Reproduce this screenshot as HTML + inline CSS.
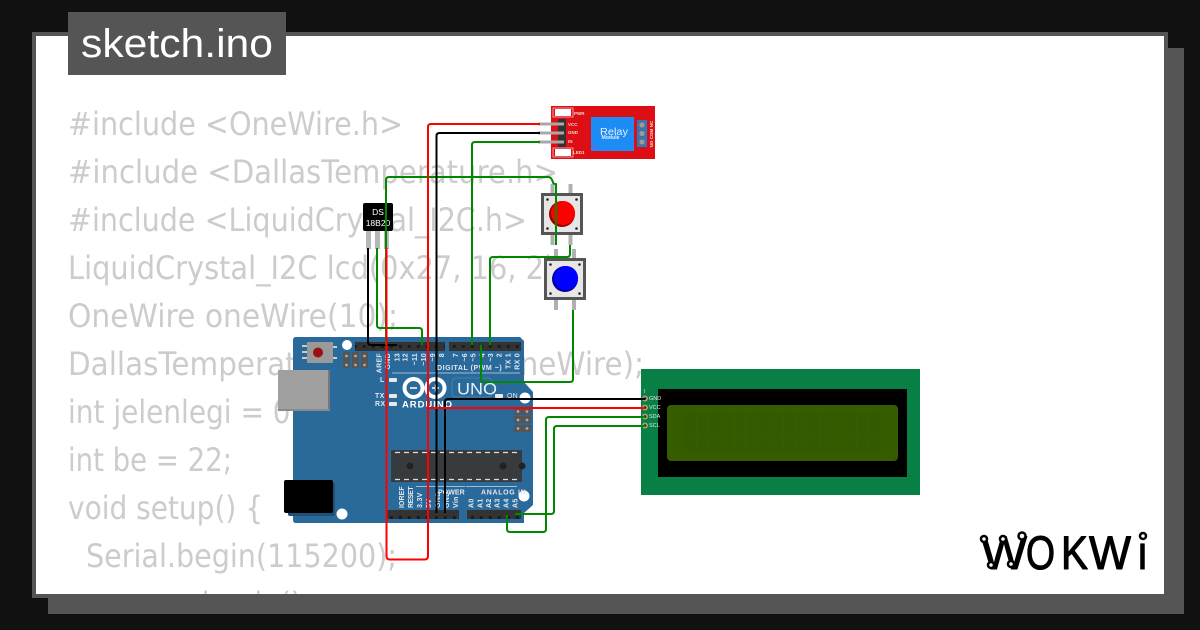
<!DOCTYPE html>
<html><head><meta charset="utf-8"><title>sketch.ino</title>
<style>html,body{margin:0;padding:0;background:#111}svg{display:block}
.code{font-family:"DejaVu Sans",sans-serif;font-size:32px;fill:#ccc}
.pl{font-family:"Liberation Sans",sans-serif;font-size:7px;fill:#e4e8ee;font-weight:bold;letter-spacing:.3px}
.w{fill:none;stroke-width:2;stroke-linejoin:round}
.lc{font-family:"Liberation Sans",sans-serif;font-size:5.5px;fill:#e8e8e8}
.lg{font-family:"Liberation Sans",sans-serif;font-size:47px;fill:#000;stroke:#000;stroke-width:1.100px;stroke-linejoin:round}
</style></head><body>
<svg xmlns="http://www.w3.org/2000/svg" width="1200" height="630" viewBox="0 0 1200 630">
<defs>
<clipPath id="c"><rect x="36" y="36" width="1128" height="558"/></clipPath>
<pattern id="h" x="0" y="0" width="9" height="9" patternUnits="userSpaceOnUse"><rect width="9" height="9" fill="#333"/><rect x="2.8" y="3" width="3" height="3" fill="#1c1c1c"/></pattern>
<pattern id="s" x="685" y="413" width="12.300" height="20" patternUnits="userSpaceOnUse"><rect x="0.500" y="0.500" width="10.500" height="19" fill="#2f5400"/></pattern>
</defs>
<rect width="1200" height="630" fill="#111"/>
<rect x="48" y="48" width="1136" height="566" fill="#555"/>
<rect x="34" y="34" width="1132" height="562" fill="#fff" stroke="#555" stroke-width="4"/>
<g clip-path="url(#c)" class="code">
<text x="68" y="135" textLength="335" lengthAdjust="spacingAndGlyphs">#include &lt;OneWire.h&gt;</text>
<text x="68" y="183" textLength="490" lengthAdjust="spacingAndGlyphs">#include &lt;DallasTemperature.h&gt;</text>
<text x="68" y="231" textLength="459" lengthAdjust="spacingAndGlyphs">#include &lt;LiquidCrystal_I2C.h&gt;</text>
<text x="68" y="279" textLength="497" lengthAdjust="spacingAndGlyphs">LiquidCrystal_I2C lcd(0x27, 16, 2);</text>
<text x="68" y="327" textLength="330" lengthAdjust="spacingAndGlyphs">OneWire oneWire(10);</text>
<text x="68" y="375" textLength="576" lengthAdjust="spacingAndGlyphs">DallasTemperature sensors(&amp;oneWire);</text>
<text x="68" y="423" textLength="232" lengthAdjust="spacingAndGlyphs">int jelenlegi = 0;</text>
<text x="68" y="471" textLength="164" lengthAdjust="spacingAndGlyphs">int be = 22;</text>
<text x="68" y="519" textLength="195" lengthAdjust="spacingAndGlyphs">void setup() {</text>
<text x="86" y="567" textLength="311" lengthAdjust="spacingAndGlyphs">Serial.begin(115200);</text>
<text x="86" y="615" textLength="225" lengthAdjust="spacingAndGlyphs">sensors.begin();</text>
</g>
<rect x="68" y="12" width="218" height="63" fill="#555"/>
<text x="81" y="57" font-family="'Liberation Sans',sans-serif" font-size="40" fill="#fff" textLength="192" lengthAdjust="spacingAndGlyphs">sketch.ino</text>

<!-- Arduino -->
<path d="M293 340Q293 337 296 337H520L524 341V382L533 392V505L524 513V523H296Q293 523 293 520Z" fill="#2a6a9b"/>
<rect x="355" y="342" width="90" height="9" fill="url(#h)"/>
<rect x="449" y="342" width="72" height="9" fill="url(#h)"/>
<rect x="387" y="510" width="72" height="9" fill="url(#h)"/>
<rect x="467" y="510" width="54" height="9" fill="url(#h)"/>
<rect x="307" y="342" width="26" height="21" fill="#9a9a9a"/>
<rect x="302" y="345" width="5" height="2" fill="#ccc"/><rect x="302" y="351" width="5" height="2" fill="#ccc"/><rect x="302" y="357" width="5" height="2" fill="#ccc"/>
<rect x="333" y="346" width="4" height="2" fill="#ccc"/><rect x="333" y="357" width="4" height="2" fill="#ccc"/>
<circle cx="318" cy="352.500" r="5" fill="#9b1111"/>
<circle cx="347" cy="345" r="5" fill="#fff"/><circle cx="342" cy="514" r="5.500" fill="#fff"/>
<circle cx="525" cy="398" r="5.500" fill="#fff"/><circle cx="524" cy="496" r="5.500" fill="#fff"/>
<rect x="343" y="352" width="7" height="16" fill="#555"/><rect x="352" y="352" width="7" height="16" fill="#555"/><rect x="361" y="352" width="7" height="16" fill="#555"/>
<g fill="#aaa"><circle cx="346.500" cy="356" r="1.400"/><circle cx="355.500" cy="356" r="1.400"/><circle cx="364.500" cy="356" r="1.400"/><circle cx="346.500" cy="365" r="1.400"/><circle cx="355.500" cy="365" r="1.400"/><circle cx="364.500" cy="365" r="1.400"/></g>
<rect x="514" y="408" width="17" height="7" fill="#555"/><rect x="514" y="416" width="17" height="7" fill="#555"/><rect x="514" y="425" width="17" height="7" fill="#555"/>
<g fill="#aaa"><circle cx="518" cy="411.500" r="1.400"/><circle cx="527" cy="411.500" r="1.400"/><circle cx="518" cy="420" r="1.400"/><circle cx="527" cy="420" r="1.400"/><circle cx="518" cy="428.500" r="1.400"/><circle cx="527" cy="428.500" r="1.400"/></g>
<rect x="278" y="370" width="52" height="41" fill="#a0a0a0"/><rect x="328" y="370" width="2" height="41" fill="#777"/><rect x="278" y="409" width="52" height="2" fill="#8a8a8a"/>
<rect x="288" y="483" width="47" height="33" rx="2" fill="#1f4f75"/>
<rect x="284" y="480" width="49" height="33" rx="2" fill="#000"/>
<rect x="391" y="450" width="131" height="32" rx="1" fill="#383b3d"/>
<path d="M395 452.500H520M395 479.500H520" stroke="#ddd" stroke-width="1.200" stroke-dasharray="5 4" fill="none"/>
<circle cx="410" cy="466" r="3.500" fill="#222"/><circle cx="503" cy="466" r="3.500" fill="#222"/><circle cx="522" cy="466" r="3.500" fill="#222"/>
<g class="pl">
<text transform="translate(381.500 353) rotate(-90)" text-anchor="end">AREF</text>
<text transform="translate(390 353) rotate(-90)" text-anchor="end">GND</text>
<text transform="translate(399.500 353) rotate(-90)" text-anchor="end">13</text>
<text transform="translate(407.500 353) rotate(-90)" text-anchor="end">12</text>
<text transform="translate(417 353) rotate(-90)" text-anchor="end">~11</text>
<text transform="translate(426 353) rotate(-90)" text-anchor="end">~10</text>
<text transform="translate(435 353) rotate(-90)" text-anchor="end">~9</text>
<text transform="translate(444 353) rotate(-90)" text-anchor="end">8</text>
<text transform="translate(458 353) rotate(-90)" text-anchor="end">7</text>
<text transform="translate(467 353) rotate(-90)" text-anchor="end">~6</text>
<text transform="translate(475.500 353) rotate(-90)" text-anchor="end">~5</text>
<text transform="translate(484.500 353) rotate(-90)" text-anchor="end">4</text>
<text transform="translate(493 353) rotate(-90)" text-anchor="end">~3</text>
<text transform="translate(501.500 353) rotate(-90)" text-anchor="end">2</text>
<text transform="translate(510.500 353) rotate(-90)" text-anchor="end">TX 1</text>
<text transform="translate(519.500 353) rotate(-90)" text-anchor="end">RX 0</text>
<text x="437" y="370" textLength="65">DIGITAL (PWM ~)</text>
<text x="380" y="382">L</text><text x="375" y="398">TX</text><text x="375" y="406">RX</text>
<text x="507" y="398" textLength="11" font-weight="normal">ON</text>
<text transform="translate(404 508) rotate(-90)" textLength="22">IOREF</text>
<text transform="translate(413 508) rotate(-90)" textLength="22">RESET</text>
<text transform="translate(422 508) rotate(-90)">3.3V</text>
<text transform="translate(431 508) rotate(-90)">5V</text>
<text transform="translate(440 508) rotate(-90)">GND</text>
<text transform="translate(449 508) rotate(-90)">GND</text>
<text transform="translate(458 508) rotate(-90)">Vin</text>
<text transform="translate(473.500 508) rotate(-90)">A0</text>
<text transform="translate(482.500 508) rotate(-90)">A1</text>
<text transform="translate(491 508) rotate(-90)">A2</text>
<text transform="translate(499.500 508) rotate(-90)">A3</text>
<text transform="translate(508.500 508) rotate(-90)">A4</text>
<text transform="translate(517.500 508) rotate(-90)">A5</text>
<text x="438" y="494.500" textLength="27">POWER</text>
<text x="481" y="494.500" textLength="45">ANALOG IN</text>
</g>
<path d="M392 373H520M416 486.500H465M466 486.500H517" stroke="#c9d6e2" stroke-width=".7" fill="none"/>
<g fill="#e8e8e8"><rect x="389" y="378" width="8" height="4" rx="1"/><rect x="389" y="394" width="8" height="4" rx="1"/><rect x="389" y="402" width="8" height="4" rx="1"/><rect x="495" y="394" width="8" height="4" rx="1"/></g>
<g fill="none" stroke="#fff" stroke-width="4"><circle cx="413.500" cy="388" r="9"/><circle cx="435.500" cy="388" r="9"/></g>
<path d="M410 388H417M432 388H439M435.500 384.500V391.500" stroke="#fff" stroke-width="1.400"/>
<text x="402" y="407.500" font-family="'Liberation Sans',sans-serif" font-weight="bold" font-size="9.500" fill="#fff" textLength="50">ARDUINO</text>
<rect x="452" y="378" width="40" height="19" rx="4" fill="none" stroke="#4a86b2" stroke-width=".8"/>
<text x="457" y="394.500" font-family="'Liberation Sans',sans-serif" font-size="17" fill="#e8eef4" textLength="40" lengthAdjust="spacingAndGlyphs">UNO</text>

<!-- LCD -->
<rect x="641" y="369" width="279" height="126" fill="#087f45"/>
<rect x="658" y="389" width="249" height="88" fill="#000"/>
<rect x="667" y="405" width="231" height="56" rx="4" fill="#365c00"/>
<rect x="685" y="413" width="196" height="40" fill="url(#s)" opacity=".3"/>
<g fill="#b49c6a"><circle cx="645" cy="398.500" r="3"/><circle cx="645" cy="407.500" r="3"/><circle cx="645" cy="416.500" r="3"/><circle cx="645" cy="425.500" r="3"/></g>
<g fill="#222"><circle cx="645" cy="398.500" r="1.300"/><circle cx="645" cy="407.500" r="1.300"/><circle cx="645" cy="416.500" r="1.300"/><circle cx="645" cy="425.500" r="1.300"/></g>
<g class="lc"><text x="649" y="400">GND</text><text x="649" y="409">VCC</text><text x="649" y="418">SDA</text><text x="649" y="427">SCL</text><text x="644" y="393">I</text></g>

<!-- Relay -->
<rect x="551" y="106" width="104" height="53" fill="#dd0f14"/>
<rect x="591" y="117" width="43" height="34" fill="#1e8cf5"/>
<text x="600" y="135" font-family="'Liberation Sans',sans-serif" font-size="10" fill="#e4f1ff" textLength="28" lengthAdjust="spacingAndGlyphs">Relay</text>
<text x="601.500" y="139" font-family="'Liberation Sans',sans-serif" font-size="5" fill="#e4f1ff" font-weight="bold" textLength="18" lengthAdjust="spacingAndGlyphs">Module</text>
<circle cx="594" cy="147" r="1.600" fill="none" stroke="#7a5fd0" stroke-width=".7"/>
<rect x="637" y="120" width="10" height="27" fill="#2f78c0"/>
<g fill="#999" stroke="#555" stroke-width=".5"><circle cx="642" cy="125" r="3"/><circle cx="642" cy="133.500" r="3"/><circle cx="642" cy="142" r="3"/></g>
<g font-family="'Liberation Sans',sans-serif" font-size="4.500" font-weight="bold" fill="#f3d5d5">
<text transform="translate(653 124) rotate(-90)" text-anchor="middle">NC</text>
<text transform="translate(653 134) rotate(-90)" text-anchor="middle">COM</text>
<text transform="translate(653 144) rotate(-90)" text-anchor="middle">NO</text>
<text x="574" y="115">PWR</text><text x="568" y="126">VCC</text><text x="568" y="134">GND</text><text x="568" y="143">IN</text><text x="573" y="154">LED1</text>
</g>
<rect x="555" y="109" width="16" height="7" fill="#fff"/><rect x="553" y="108" width="20" height="9" fill="none" stroke="#f5d5d5" stroke-width=".7"/>
<rect x="555" y="149" width="16" height="7" fill="#fff"/><rect x="553" y="148" width="20" height="9" fill="none" stroke="#f5d5d5" stroke-width=".7"/>
<rect x="558" y="119" width="8" height="28" rx="1" fill="#333"/>
<g fill="#a8a8a8"><rect x="538" y="122.500" width="26" height="3"/><rect x="538" y="131.500" width="26" height="3"/><rect x="538" y="140.500" width="26" height="3"/></g>

<!-- DS18B20 -->
<g fill="#b8b8b8"><rect x="366" y="231" width="5" height="18"/><rect x="375" y="231" width="5" height="18"/><rect x="384" y="231" width="5" height="18"/></g>
<rect x="363" y="203" width="30" height="28" rx="2" fill="#000"/>
<text x="378" y="215" text-anchor="middle" font-family="'Liberation Sans',sans-serif" font-size="8.500" fill="#fff">DS</text>
<text x="378" y="226" text-anchor="middle" font-family="'Liberation Sans',sans-serif" font-size="8.500" fill="#fff">18B20</text>

<!-- Buttons -->
<g fill="#b0b0b0"><rect x="550.500" y="184" width="4" height="10"/><rect x="568.500" y="184" width="4" height="10"/><rect x="550.500" y="234" width="4" height="11"/><rect x="568.500" y="234" width="4" height="11"/>
<rect x="554" y="249" width="4" height="10"/><rect x="572" y="249" width="4" height="10"/><rect x="554" y="299" width="4" height="11"/><rect x="572" y="299" width="4" height="11"/></g>
<rect x="542.500" y="194.500" width="39" height="39" fill="#e6e6e6" stroke="#555" stroke-width="3"/>
<rect x="545.500" y="259.500" width="39" height="39" fill="#e6e6e6" stroke="#555" stroke-width="3"/>
<circle cx="562" cy="214" r="13" fill="#900"/><circle cx="563" cy="213" r="12" fill="#f00"/>
<circle cx="565" cy="279" r="13" fill="#009"/><circle cx="566" cy="278" r="12" fill="#00f"/>
<g fill="#222"><circle cx="547.500" cy="199.500" r="1.300"/><circle cx="576.500" cy="199.500" r="1.300"/><circle cx="547.500" cy="228.500" r="1.300"/><circle cx="576.500" cy="228.500" r="1.300"/>
<circle cx="550.500" cy="264.500" r="1.300"/><circle cx="579.500" cy="264.500" r="1.300"/><circle cx="550.500" cy="293.500" r="1.300"/><circle cx="579.500" cy="293.500" r="1.300"/></g>

<!-- Wires -->
<g class="w">
<path stroke="#000" d="M368 248V342Q368 345 371 345H397"/>
<path stroke="#080" d="M377 248V325Q377 328 380 328H419Q422 328 422 331V345"/>
<path stroke="#080" d="M386 345V180Q386 177 389 177H548Q551 177 552 180L553 182Q553 184 556 184V245"/>
<path stroke="#f00" d="M386.500 248V556Q386.500 559.500 390 559.500H424.500Q428 559.500 428 556V127Q428 124 431 124H540"/>
<path stroke="#000" d="M436.500 513V136Q436.500 133 439.500 133H540"/>
<path stroke="#080" d="M472 345V145Q472 142 475 142H540"/>
<path stroke="#080" d="M490 345V260Q490 257 493 257H567Q570 257 570 254V245"/>
<path stroke="#080" d="M573 310V379Q573 382 570 382H484Q481 382 481 379V345"/>
<path stroke="#000" d="M445 513V402Q445 399 448 399H645"/>
<path stroke="#f00" d="M428 408H645"/>
<path stroke="#080" d="M645 417H549Q546 417 546 420V529Q546 532 543 532H510Q507 532 507 529V515"/>
<path stroke="#080" d="M645 426H557Q554 426 554 429V511Q554 514 551 514H515"/>
</g>

<!-- Logo -->
<g class="lg">
<text x="981" y="569" textLength="46" lengthAdjust="spacingAndGlyphs">W</text>
<text x="1026" y="569" textLength="29" lengthAdjust="spacingAndGlyphs">O</text>
<text x="1061" y="569" textLength="27" lengthAdjust="spacingAndGlyphs">K</text>
<text x="1089" y="569" textLength="42" lengthAdjust="spacingAndGlyphs">W</text>
<text x="1138" y="569" textLength="9" lengthAdjust="spacingAndGlyphs">i</text>
</g>
<g fill="#fff" stroke="#000" stroke-width="2.500"><circle cx="984" cy="539" r="3"/><circle cx="1003" cy="539" r="3"/><circle cx="1022" cy="536" r="3.500"/><circle cx="991" cy="565" r="3"/><circle cx="1011" cy="564" r="3"/><circle cx="1143" cy="536" r="3"/></g>
</svg>
</body></html>
